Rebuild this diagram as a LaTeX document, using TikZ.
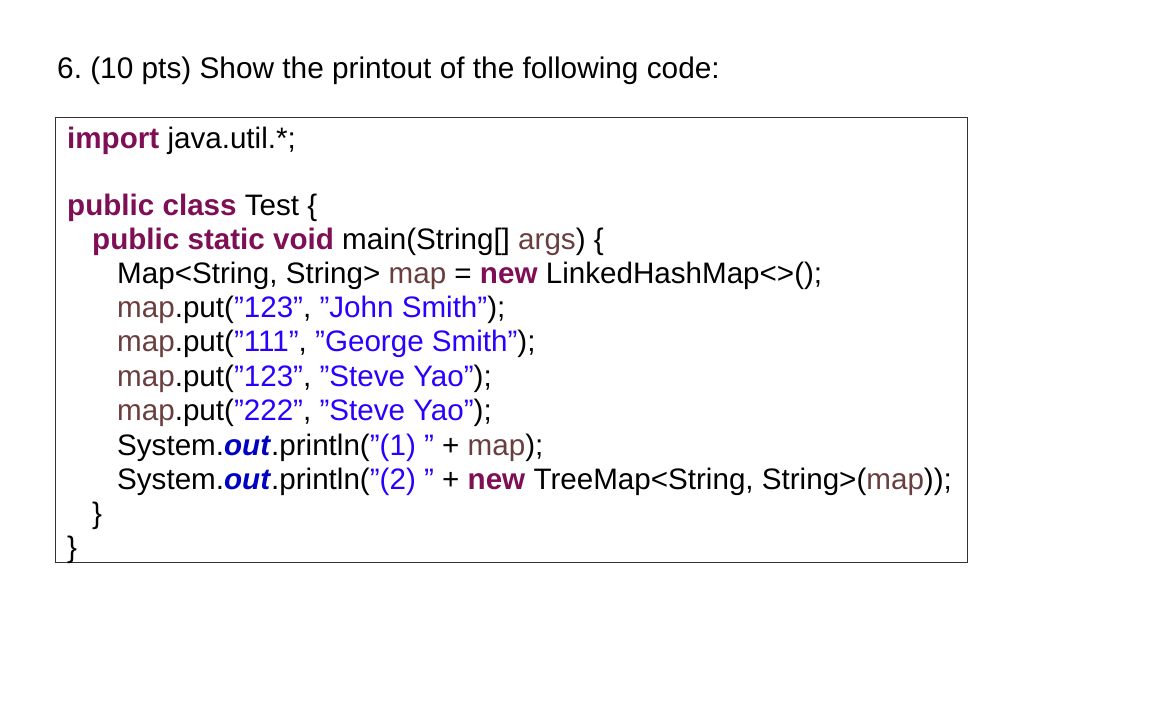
\documentclass[tikz,border=0pt]{standalone}
\usepackage{fontspec}
\setmainfont{Liberation Sans}
\definecolor{kw}{HTML}{7F0F55}
\definecolor{var}{HTML}{6A3E3E}
\definecolor{str}{HTML}{2A00FF}
\definecolor{fld}{HTML}{0000C0}
\newcommand{\kw}[1]{\textcolor{kw}{\textbf{#1}}}
\newcommand{\vr}[1]{\textcolor{var}{#1}}
\newcommand{\st}[1]{\textcolor{str}{\char34 #1\char34}}
\newcommand{\fl}[1]{\textcolor{fld}{\textbf{\textit{#1}}}}
\frenchspacing
\begin{document}
\begin{tikzpicture}[x=1pt,y=-1pt,
  codeline/.style={anchor=base west,inner sep=0pt,font=\fontsize{29.6}{34}\selectfont},
  titletext/.style={anchor=base west,inner sep=0pt,font=\fontsize{29.8}{34}\selectfont}]
\useasboundingbox (0,0) rectangle (1150,710);
\draw[line width=1pt,draw=black!80] (55,117) rectangle (967,562);
\node[titletext] (t) at (57,78) {6. (10 pts) Show the printout of the following code:};
\node[codeline] (l1) at (67,148) {\kw{import} java.util.*;};
\node[codeline] (l2) at (67,215) {\kw{public class} Test \{};
\node[codeline] (l3) at (92,249) {\kw{public static void} main(String[] \vr{args}) \{};
\node[codeline] (l4) at (117,283) {Map<String, String> \vr{map} = \kw{new} LinkedHashMap<>();};
\node[codeline] (l5) at (117,317) {\vr{map}.put(\st{123}, \st{John Smith});};
\node[codeline] (l6) at (117,351) {\vr{map}.put(\st{111}, \st{George Smith});};
\node[codeline] (l7) at (117,386) {\vr{map}.put(\st{123}, \st{Steve Yao});};
\node[codeline] (l8) at (117,420) {\vr{map}.put(\st{222}, \st{Steve Yao});};
\node[codeline] (l9) at (117,455) {System.\fl{out}.println(\st{(1) } + \vr{map});};
\node[codeline] (l10) at (117,489) {System.\fl{out}.println(\st{(2) } + \kw{new} TreeMap<String, String>(\vr{map}));};
\node[codeline] (l11) at (92,523) {\}};
\node[codeline] (l12) at (67,557) {\}};
\end{tikzpicture}
\end{document}
